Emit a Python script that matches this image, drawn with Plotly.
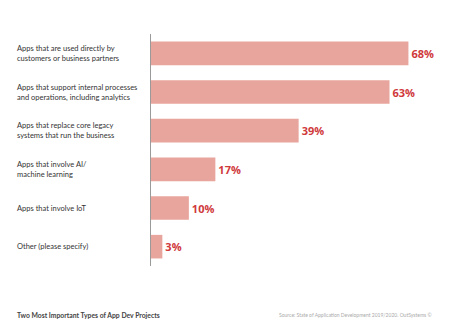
import plotly.graph_objects as go

categories = [
    "Apps that are used directly by<br>customers or business partners",
    "Apps that support internal processes<br>and operations, including analytics",
    "Apps that replace core legacy<br>systems that run the business",
    "Apps that involve AI/<br>machine learning",
    "Apps that involve IoT",
    "Other (please specify)",
]
values = [68, 63, 39, 17, 10, 3]

title_text = "Two Most Important Types of App Dev Projects"
source_text = "Source: State of Application Development 2019/2020. OutSystems \u00a9"

W, H = 474, 332
ml, mr, mt, mb = 151, 5, 34, 66
pw = W - ml - mr
ph = H - mt - mb

fig = go.Figure(go.Bar(
    x=values,
    y=categories,
    orientation="h",
    marker=dict(color="#E8A59D", line=dict(width=0)),
    texttemplate="<b>%{x}%</b>",
    textposition="outside",
    textfont=dict(color="#D0393B", size=11, family="Open Sans"),
    cliponaxis=False,
    hoverinfo="skip",
))

annotations = []
for c in categories:
    annotations.append(dict(
        x=-(ml - 15) / pw, xref="paper", xanchor="left",
        y=c, yref="y", yanchor="middle",
        text=c, align="left", showarrow=False,
        font=dict(family="Lato", size=7.5, color="#333333"),
    ))
annotations.append(dict(
    x=-(ml - 15) / pw, xref="paper", xanchor="left",
    y=-(315 - (H - mb)) / ph, yref="paper", yanchor="middle",
    text="<b>" + title_text + "</b>", showarrow=False,
    font=dict(family="Lato", size=6.8, color="#444444"),
))
annotations.append(dict(
    x=(277 - ml) / pw, xref="paper", xanchor="left",
    y=-(315 - (H - mb)) / ph, yref="paper", yanchor="middle",
    text=source_text, showarrow=False,
    font=dict(family="Lato", size=5.0, color="#aaaaaa"),
))

fig.update_layout(
    width=W, height=H,
    margin=dict(l=ml, r=mr, t=mt, b=mb, pad=0),
    paper_bgcolor="white", plot_bgcolor="white",
    bargap=0.39,
    showlegend=False,
    xaxis=dict(range=[0, 84], visible=False, fixedrange=True),
    yaxis=dict(autorange="reversed", showticklabels=False, ticks="",
               showline=True, linecolor="#9a9a9a", linewidth=1,
               showgrid=False, zeroline=False, fixedrange=True),
    annotations=annotations,
)

fig.write_html("out.html", config={"displayModeBar": False})
